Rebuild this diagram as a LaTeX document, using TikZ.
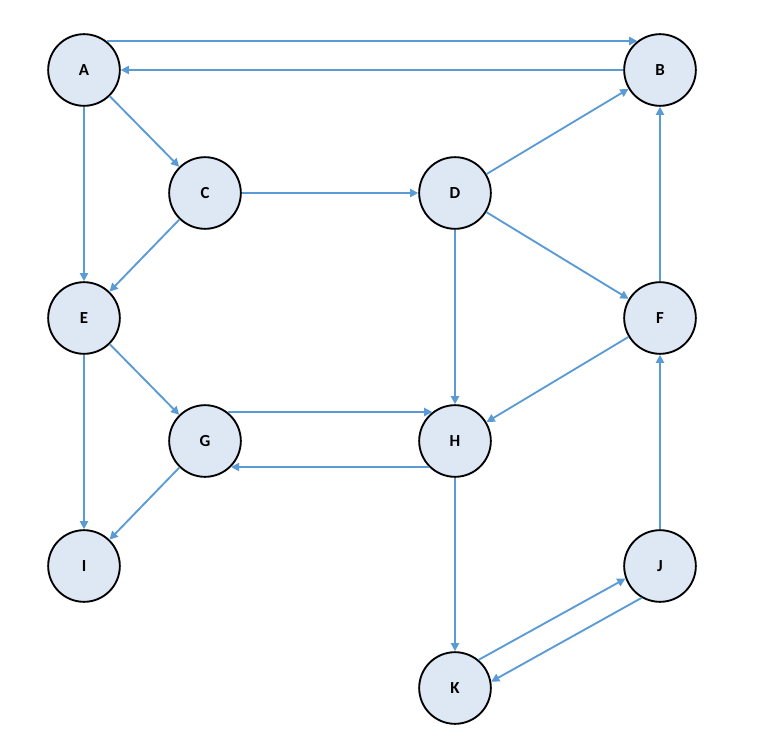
\documentclass[tikz,border=0pt]{standalone}
\usepackage{fontspec}
\setmainfont{Carlito}
\usetikzlibrary{arrows.meta}
\definecolor{edgeblue}{HTML}{5B9BD5}
\definecolor{nodefill}{HTML}{DEE8F5}
\begin{document}
\begin{tikzpicture}[x=0.03cm,y=-0.03cm,
  vert/.style={circle,draw=black,line width=1.6pt,fill=nodefill,minimum size=2.15cm,inner sep=0pt,font=\Large\bfseries},
  edge/.style={draw=edgeblue,line width=1.6pt,-{Triangle[length=7pt,width=7pt]}}]
\useasboundingbox (0,0) rectangle (784,737);
\node[vert] (A) at (84,70) {A};
\node[vert] (B) at (660,70) {B};
\node[vert] (C) at (205,193) {C};
\node[vert] (D) at (455,193) {D};
\node[vert] (E) at (84,318) {E};
\node[vert] (F) at (660,318) {F};
\node[vert] (G) at (205,441) {G};
\node[vert] (H) at (455,441) {H};
\node[vert] (I) at (84,566) {I};
\node[vert] (J) at (660,566) {J};
\node[vert] (K) at (455,688) {K};
\draw[edge] (A.52) -- (B.128);
\draw[edge] (B.180) -- (A.0);
\draw[edge] (A) -- (C);
\draw[edge] (A) -- (E);
\draw[edge] (C) -- (D);
\draw[edge] (C) -- (E);
\draw[edge] (D) -- (B);
\draw[edge] (D) -- (F);
\draw[edge] (D) -- (H);
\draw[edge] (F) -- (B);
\draw[edge] (F) -- (H);
\draw[edge] (E) -- (G);
\draw[edge] (E) -- (I);
\draw[edge] (G) -- (I);
\draw[edge] (G.52) -- (H.128);
\draw[edge] (H.-135) -- (G.-45);
\draw[edge] (H) -- (K);
\draw[edge] (J) -- (F);
\draw[edge] (K.50) -- (J.200);
\draw[edge] (J.240) -- (K.10);
\end{tikzpicture}
\end{document}
